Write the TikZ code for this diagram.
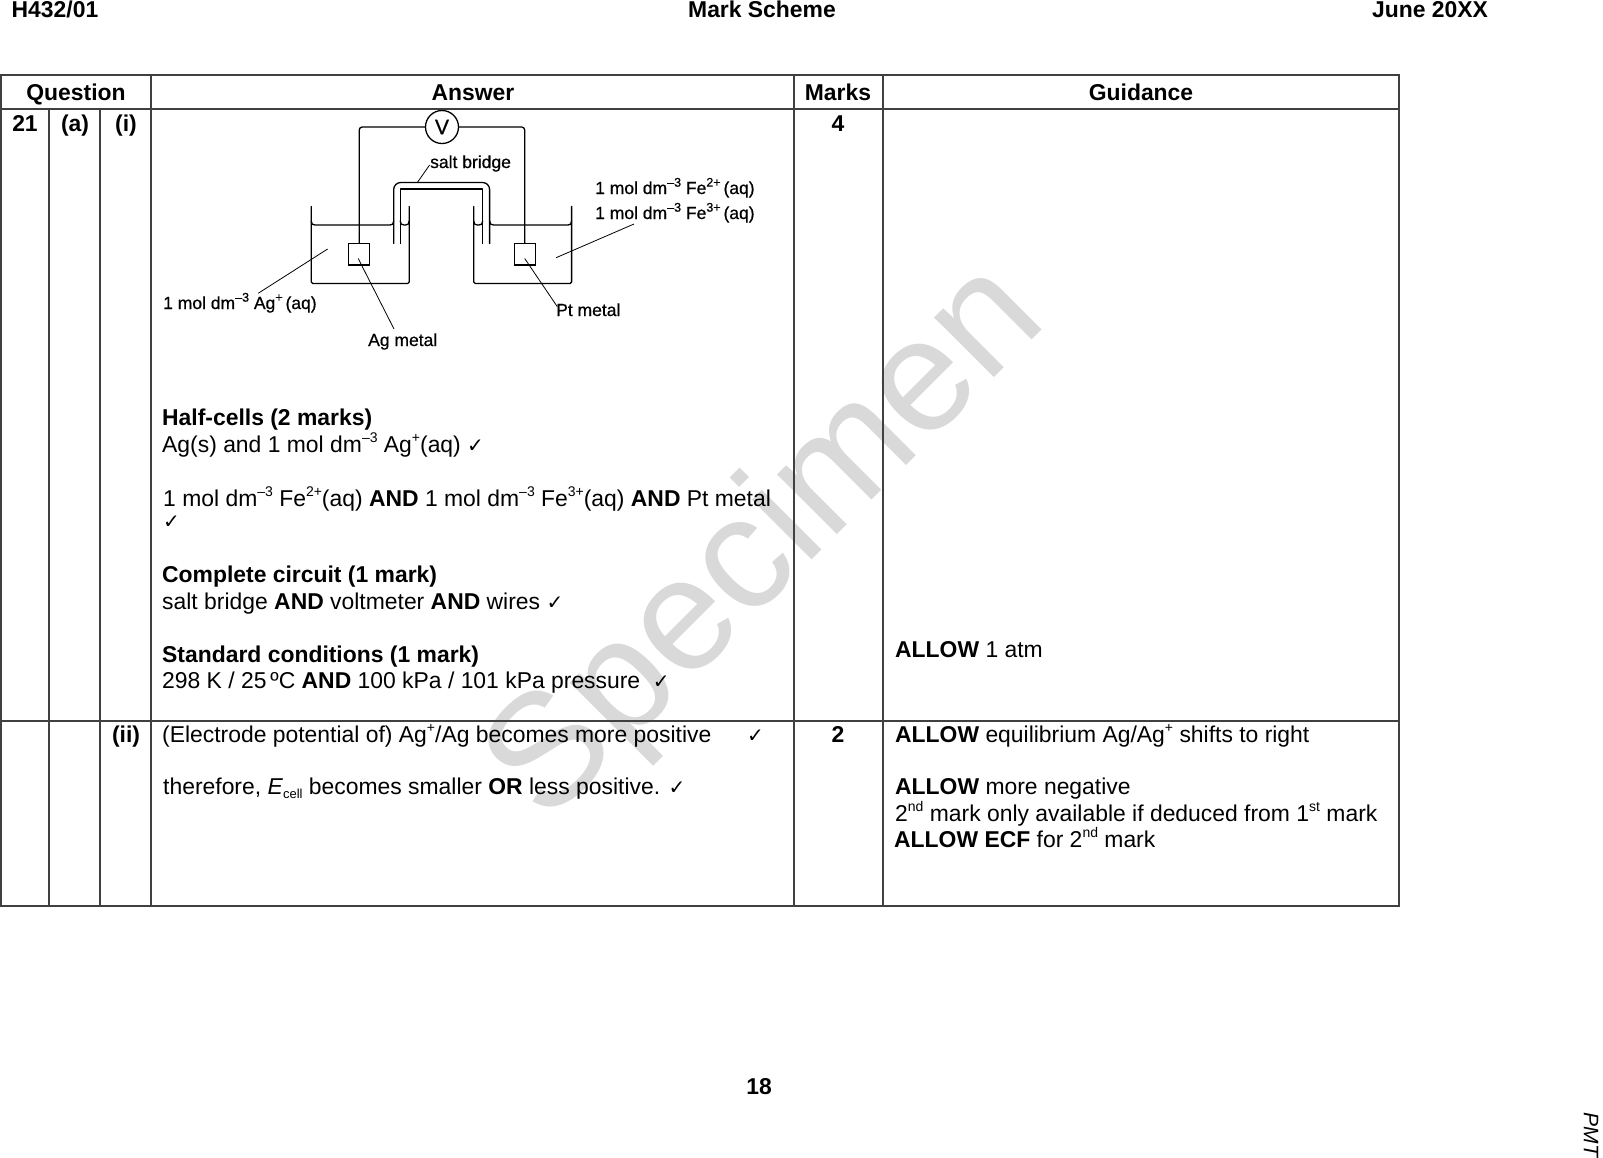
\documentclass[tikz,border=0pt]{standalone}
\usepackage{fontspec}
\setmainfont{Liberation Sans}
\newfontfamily\labfont[FakeBold=0.6]{Liberation Sans}
\newfontfamily\chk{DejaVu Sans}
\newcommand{\ck}{{\chk\fontsize{20}{20}\selectfont ✓}}
\newcommand{\sps}[1]{\raisebox{0.42em}{\fontsize{14}{14}\selectfont #1}}
\newcommand{\lsps}[1]{\raisebox{0.42em}{\fontsize{12.5}{12.5}\labfont #1}}
\newcommand{\sbs}[1]{\raisebox{-0.18em}{\fontsize{13}{13}\selectfont #1}}
\tikzset{
 x=1pt,y=-1pt,
 tline/.style={draw=black!75,line width=1.3pt},
 dline/.style={draw=black,line width=1.3pt,line join=round,line cap=round},
 leader/.style={draw=black,line width=0.8pt},
 body/.style={anchor=base west,inner sep=0pt,font=\fontsize{22.9}{26}\selectfont},
 bodyb/.style={body,font=\fontsize{22.9}{26}\selectfont\bfseries},
 head/.style={anchor=base,inner sep=0pt,font=\fontsize{22.9}{26}\selectfont\bfseries},
 lab/.style={anchor=base west,inner sep=0pt,font=\fontsize{17.5}{20}\labfont},
 elec/.style={draw=black,line width=1.2pt,minimum width=20.8pt,minimum height=21.7pt,inner sep=0pt},
}
\begin{document}
\begin{tikzpicture}
\useasboundingbox (0,0) rectangle (1603,1157);
\fill[white] (0,0) rectangle (1603,1157);
% watermark
\node[rotate=45,text=black!15,inner sep=0pt,font=\fontsize{160}{160}\selectfont] (wm) at (769,545) {Specimen};
% header
\node[head] (h1) at (55,17.5) {H432/01};
\node[head] (h2) at (762,17.5) {Mark Scheme};
\node[head] (h3) at (1430,17.5) {June 20XX};
% table
\draw[tline] (1,75) rectangle (1399,906);
\draw[tline] (1,109) -- (1399,109);
\draw[tline] (1,721) -- (1399,721);
\draw[tline] (151,75) -- (151,906);
\draw[tline] (794,75) -- (794,906);
\draw[tline] (883,75) -- (883,906);
\draw[tline] (49,109) -- (49,906);
\draw[tline] (100,109) -- (100,906);
% table headings
\node[head] (q) at (76,100) {Question};
\node[head] (a) at (473,100) {Answer};
\node[head] (m) at (838,100) {Marks};
\node[head] (g) at (1141,100) {Guidance};
\node[head] (n21) at (25,131) {21};
\node[head] (na) at (75,131) {(a)};
\node[head] (ni) at (126,131) {(i)};
\node[head] (n4) at (838,131) {4};
\node[head] (nii) at (126,742) {(ii)};
\node[head] (n2) at (838,742) {2};
% diagram
\node[circle,draw=black,line width=1.3pt,fill=white,minimum size=33pt,inner sep=0pt,font=\fontsize{21}{21}\labfont] (V) at (442,127) {V};
\node[elec] (agbox) at (359.2,254.2) {};
\node[elec] (ptbox) at (524.7,254.2) {};
\draw[dline,rounded corners=3pt] (V.west) -- (agbox.north |- V.west) -- (agbox.north);
\draw[dline,rounded corners=3pt] (V.east) -- (ptbox.north |- V.east) -- (ptbox.north);
% beakers
\draw[dline,rounded corners=1.5pt] (311.2,206.5) -- (311.2,283.5) -- (409.2,283.5) -- (409.2,206.5);
\draw[dline,rounded corners=1.5pt] (473.7,206.5) -- (473.7,283.5) -- (571.6,283.5) -- (571.6,206.5);
% liquid levels, curving up at each wall
\draw[dline] (311.2,221) .. controls (311.4,224) and (312.5,225) .. (315,225) -- (390,225) .. controls (392.5,225) and (393.5,224) .. (393.7,221);
\draw[dline] (400.2,221) .. controls (400.4,224) and (401.5,225) .. (404,225) -- (405.5,225) .. controls (408,225) and (409,224) .. (409.2,221);
\draw[dline] (473.7,221) .. controls (473.9,224) and (475,225) .. (477.5,225) -- (479,225) .. controls (481.5,225) and (482.5,224) .. (482.7,221);
\draw[dline] (489.6,221) .. controls (489.8,224) and (491,225) .. (493.5,225) -- (568,225) .. controls (570.5,225) and (571.4,224) .. (571.6,221);
% salt bridge
\draw[dline,rounded corners=7pt] (393.7,243.5) -- (393.7,182.5) -- (489.6,182.5) -- (489.6,243.5);
\draw[dline] (400.2,243.5) -- (400.2,189) -- (482.7,189) -- (482.7,243.5);
% leaders
\coordinate (sbl) at (417.3,182.5);
\node[lab] (sb) at (430,168) {salt bridge};
\draw[leader] (sbl) -- (429.6,165);
\node[lab] (lfe2) at (595,194) {1 mol dm\lsps{–3} Fe\lsps{2+}\,(aq)};
\node[lab] (lfe3) at (595,219) {1 mol dm\lsps{–3} Fe\lsps{3+}\,(aq)};
\coordinate (fesol) at (556.1,257.7);
\draw[leader] (fesol) -- (634,224);
\node[lab] (lag) at (163,309) {1 mol dm\lsps{–3} Ag\lsps{+}\,(aq)};
\coordinate (agsol) at (327.6,249);
\draw[leader] (agsol) -- (258.2,293.3);
\node[lab] (agm) at (368,346) {Ag metal};
\coordinate (agin) at (358.2,258.5);
\draw[leader] (agin) -- (394,329);
\node[lab] (ptm) at (556,316) {Pt metal};
\coordinate (ptin) at (524.7,258.5);
\draw[leader] (ptin) -- (557.3,306.7);
% answer text
\node[bodyb] (t1) at (162,425) {Half-cells (2 marks)};
\node[body] (t2) at (162,452) {Ag(s) and 1 mol dm\sps{–3} Ag\sps{+}(aq) \ck};
\node[body] (t3) at (163,506) {1 mol dm\sps{–3} Fe\sps{2+}(aq) \textbf{AND} 1 mol dm\sps{–3} Fe\sps{3+}(aq) \textbf{AND} Pt metal};
\node[body] (t4) at (163,528) {\ck};
\node[bodyb] (t5) at (162,582) {Complete circuit (1 mark)};
\node[body] (t6) at (162,609) {salt bridge \textbf{AND} voltmeter \textbf{AND} wires \ck};
\node[bodyb] (t7) at (162,662) {Standard conditions (1 mark)};
\node[body] (t8) at (162,688) {298 K / 25\,ºC \textbf{AND} 100 kPa / 101 kPa pressure \ \ck};
\node[body] (t9) at (162,742) {(Electrode potential of) Ag\sps{+}/Ag becomes more positive};
\node[body] (t9c) at (747,742) {\ck};
\node[body] (t10) at (163,794) {therefore, \textit{E}\sbs{cell} becomes smaller \textbf{OR} less positive. \ck};
% guidance
\node[body] (g1) at (895,657) {\textbf{ALLOW} 1 atm};
\node[body] (g2) at (895,742) {\textbf{ALLOW} equilibrium Ag/Ag\sps{+} shifts to right};
\node[body] (g3) at (895,794) {\textbf{ALLOW} more negative};
\node[body] (g4) at (895,821) {2\sps{nd} mark only available if deduced from 1\sps{st} mark};
\node[body] (g5) at (894,847) {\textbf{ALLOW ECF} for 2\sps{nd} mark};
% footer
\node[head] (pg) at (759,1094) {18};
\node[rotate=-90,inner sep=0pt,font=\fontsize{21}{21}\selectfont\itshape] (pmt) at (1591,1135) {PMT};
\end{tikzpicture}
\end{document}
